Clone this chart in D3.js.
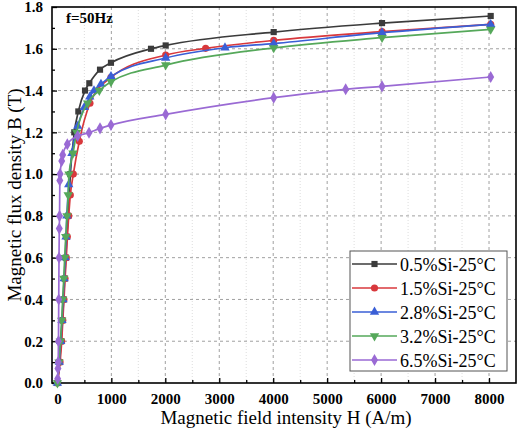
<!DOCTYPE html>
<html>
<head>
<meta charset="utf-8">
<script src="https://cdn.jsdelivr.net/npm/d3@7"></script>
<style>
  body { margin: 0; background: #fff; }
  svg { display: block; }
  text { font-family: "Liberation Serif", "Times New Roman", serif; }
</style>
</head>
<body>
<svg id="chart"></svg>
<script>
const seriesNames = ["0.5%Si-25°C", "1.5%Si-25°C", "2.8%Si-25°C", "3.2%Si-25°C", "6.5%Si-25°C"]
const colors = ["#3b3b3b", "#d8383c", "#3a5fd6", "#55a85a", "#9a6ad4"]
const symbols = ["square", "circle", "triangleUp", "triangleDown", "diamond"]

// H (A/m) and B (T)
const h05 = [0, 40, 70, 95, 115, 135, 155, 175, 200, 240, 313, 388, 512, 592, 790, 993, 1735, 2007, 4009, 6017, 8031]
const b05 = [0, 0.1, 0.2, 0.3, 0.4, 0.5, 0.6, 0.7, 0.8, 1.0, 1.2, 1.3, 1.4, 1.435, 1.5, 1.533, 1.6, 1.616, 1.68, 1.723, 1.757]
const h15 = [0, 50, 80, 100, 122, 142, 165, 185, 210, 240, 295, 406, 604, 993, 2007, 2748, 4009, 6017, 8031]
const b15 = [0, 0.1, 0.2, 0.3, 0.4, 0.5, 0.6, 0.7, 0.8, 0.9, 1.0, 1.157, 1.339, 1.463, 1.57, 1.602, 1.64, 1.682, 1.717]
const h28 = [0, 35, 60, 85, 105, 125, 145, 160, 175, 210, 270, 376, 500, 600, 678, 808, 993, 2007, 3106, 4009, 6017, 8031]
const b28 = [0, 0.1, 0.2, 0.3, 0.4, 0.5, 0.6, 0.7, 0.8, 0.95, 1.1, 1.23, 1.32, 1.37, 1.4, 1.431, 1.468, 1.556, 1.605, 1.625, 1.677, 1.717]
const h32 = [0, 30, 55, 80, 98, 118, 135, 155, 178, 200, 215, 290, 357, 560, 777, 993, 2007, 4009, 6017, 8031]
const b32 = [0, 0.1, 0.2, 0.3, 0.4, 0.5, 0.6, 0.7, 0.8, 0.9, 1.0, 1.1, 1.2, 1.34, 1.4, 1.442, 1.522, 1.604, 1.653, 1.693]
const h65 = [5, 10, 15, 20, 25, 30, 35, 40, 45, 50, 80, 98, 184, 376, 586, 790, 993, 2007, 4009, 5343, 6017, 8031]
const b65 = [0.02, 0.07, 0.1, 0.2, 0.4, 0.6, 0.74, 0.8, 0.97, 1.0, 1.063, 1.092, 1.143, 1.182, 1.198, 1.219, 1.235, 1.286, 1.366, 1.406, 1.42, 1.465]

const xTicks = [0, 1000, 2000, 3000, 4000, 5000, 6000, 7000, 8000]
const yTicks = [0, 0.2, 0.4, 0.6, 0.8, 1.0, 1.2, 1.4, 1.6, 1.8]

const hSets = [h05, h15, h28, h32, h65]
const bSets = [b05, b15, b28, b32, b65]
const series = seriesNames.map((name, i) => ({
    name,
    color: colors[i],
    symbol: symbols[i],
    points: hSets[i].map((h, j) => ({ h, b: bSets[i][j] }))
}))

const w = 520
const h = 429
const margin = { top: 7, right: 4, bottom: 46, left: 52 }
const width = w - margin.left - margin.right
const height = h - margin.top - margin.bottom

const svg = d3.select("#chart").attr("width", w).attr("height", h)
const chart = svg.append("g").attr("transform", `translate(${margin.left}, ${margin.top})`)

const x = d3.scaleLinear().domain([-100, 8500]).range([0, width])
const y = d3.scaleLinear().domain([0, 1.8]).range([height, 0])

// grid
const minorX = d3.range(500, 8500, 1000)
chart.append("g").selectAll("line").data(minorX).join("line")
    .attr("x1", d => x(d)).attr("x2", d => x(d)).attr("y1", 0).attr("y2", height)
    .attr("stroke", "#d4d4d4").attr("stroke-width", 0.8).attr("stroke-dasharray", "1,2")
chart.append("g").selectAll("line").data(xTicks.slice(1)).join("line")
    .attr("x1", d => x(d)).attr("x2", d => x(d)).attr("y1", 0).attr("y2", height)
    .attr("stroke", "#a0a0a0").attr("stroke-width", 1).attr("stroke-dasharray", "3,3")
chart.append("g").selectAll("line").data(yTicks.slice(1, -1)).join("line")
    .attr("x1", 0).attr("x2", width).attr("y1", d => y(d)).attr("y2", d => y(d))
    .attr("stroke", "#a0a0a0").attr("stroke-width", 1).attr("stroke-dasharray", "3,3")

// axes with inward ticks
const xAxis = d3.axisBottom(x).tickValues(xTicks).tickSize(-5).tickPadding(10).tickFormat(d3.format("d"))
const xMinor = d3.axisBottom(x).tickValues(minorX).tickSize(-3).tickFormat("")
const yAxis = d3.axisLeft(y).tickValues(yTicks).tickSize(-5).tickPadding(9).tickFormat(d3.format(".1f"))
const yMinor = d3.axisLeft(y).tickValues(d3.range(0.1, 1.8, 0.2)).tickSize(-3).tickFormat("")

function styleAxis(g) {
    g.select(".domain").remove()
    g.selectAll("line").attr("stroke", "#000").attr("stroke-width", 1.3)
    g.selectAll("text").attr("font-size", 15).attr("font-weight", "bold").attr("fill", "#000")
        .style("font-family", '"Liberation Serif", serif')
}
chart.append("g").attr("transform", `translate(0, ${height})`).call(xAxis).call(styleAxis)
chart.append("g").attr("transform", `translate(0, ${height})`).call(xMinor).call(styleAxis)
chart.append("g").call(yAxis).call(styleAxis)
chart.append("g").call(yMinor).call(styleAxis)

// frame
chart.append("rect").attr("width", width).attr("height", height)
    .attr("fill", "none").attr("stroke", "#000").attr("stroke-width", 1.6)

// curves
const line = d3.line().x(d => x(d.h)).y(d => y(d.b)).curve(d3.curveMonotoneX)
const symbolType = {
    square: d3.symbolSquare,
    circle: d3.symbolCircle,
    triangleUp: d3.symbolTriangle,
    triangleDown: d3.symbolTriangle,
    diamond: d3.symbolDiamond
}
const symbolSize = { square: 38, circle: 40, triangleUp: 38, triangleDown: 38, diamond: 42 }
function drawMarker(g, s) {
    g.append("path")
        .attr("d", d3.symbol().type(symbolType[s.symbol]).size(symbolSize[s.symbol]))
        .attr("fill", s.color)
        .attr("transform", s.symbol === "triangleDown" ? "rotate(180)" : null)
}

const plot = chart.append("g")
series.forEach(s => {
    plot.append("path").datum(s.points)
        .attr("fill", "none").attr("stroke", s.color).attr("stroke-width", 1.7)
        .attr("d", line)
    plot.append("g").selectAll("g").data(s.points).join("g")
        .attr("transform", d => `translate(${x(d.h)}, ${y(d.b)})`)
        .each(function () { drawMarker(d3.select(this), s) })
})

// legend
const legend = chart.append("g").attr("transform", `translate(${350 - margin.left}, ${251 - margin.top})`)
legend.append("rect").attr("width", 157).attr("height", 120)
    .attr("fill", "#fff").attr("stroke", "#555").attr("stroke-width", 1)
series.forEach((s, i) => {
    const row = legend.append("g").attr("transform", `translate(0, ${13 + i * 24})`)
    row.append("line").attr("x1", 2).attr("x2", 47).attr("stroke", s.color).attr("stroke-width", 1.6)
    drawMarker(row.append("g").attr("transform", "translate(24.5, 0)"), s)
    row.append("text").attr("x", 50).attr("y", 6.5).attr("font-size", 18).text(s.name)
})

// annotation and titles
chart.append("text").attr("x", 66 - margin.left).attr("y", 23 - margin.top)
    .attr("font-size", 15).attr("font-weight", "bold").text("f=50Hz")
svg.append("text").attr("x", margin.left + width / 2 + 2).attr("y", 424)
    .attr("text-anchor", "middle").attr("font-size", 19).text("Magnetic field intensity H (A/m)")
svg.append("text").attr("transform", `translate(21, ${margin.top + height / 2}) rotate(-90)`)
    .attr("text-anchor", "middle").attr("font-size", 19).text("Magnetic flux density B (T)")
</script>
</body>
</html>
